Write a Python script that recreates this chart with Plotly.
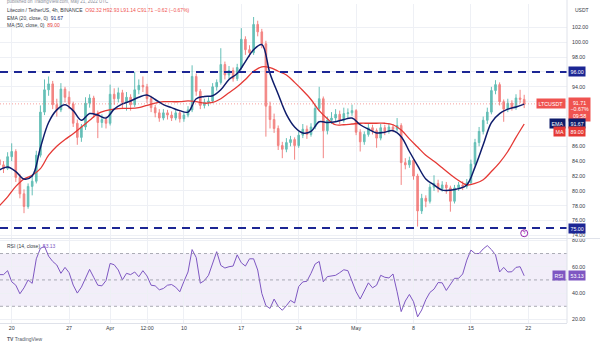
import pandas as pd
import plotly.graph_objects as go

# ---- data: LTC/USDT, 12h bars ----
candle_time = pd.date_range("2022-03-18 12:00", periods=129, freq="12h")

opens = [84.2, 83.5, 83.0, 84.6, 85.3, 81.8, 79.6, 77.9, 80.6, 81.3,
         84.8, 90.6, 93.6, 94.4, 91.6, 90.9, 93.7, 92.6, 91.7, 89.1,
         87.2, 88.6, 91.8, 92.5, 90.4, 89.2, 89.6, 89.1, 93.0, 92.4,
         93.2, 91.9, 92.6, 91.6, 93.6, 94.2, 94.0, 92.4, 91.2, 90.5,
         89.8, 90.5, 90.2, 89.8, 90.5, 89.7, 90.2, 90.9, 95.4, 93.4,
         91.5, 91.9, 92.1, 94.0, 94.6, 97.0, 95.6, 96.2, 95.1, 96.6,
         100.4, 99.0, 98.6, 102.4, 101.4, 99.8, 91.4, 89.6, 88.4, 86.1,
         85.6, 86.5, 86.9, 86.1, 87.5, 88.3, 87.6, 88.6, 91.1, 92.4,
         88.1, 89.5, 89.8, 90.3, 89.5, 90.4, 90.5, 90.8, 87.9, 86.6,
         87.6, 88.5, 88.1, 87.1, 88.5, 88.0, 88.6, 88.3, 88.8, 83.8,
         83.5, 84.1, 82.0, 77.3, 79.0, 78.6, 80.5, 81.0, 80.3, 80.8,
         80.4, 78.6, 80.4, 80.8, 80.6, 81.1, 83.6, 86.5, 88.0, 89.5,
         90.6, 93.5, 94.3, 92.0, 91.0, 91.8, 91.2, 92.5, 92.32]
highs = [85.0, 84.0, 85.2, 86.4, 85.6, 82.3, 80.2, 81.0, 82.2, 85.4,
         91.5, 95.0, 95.4, 94.8, 92.4, 94.5, 94.0, 93.4, 92.0, 89.6,
         89.0, 92.6, 93.0, 92.8, 90.8, 90.3, 90.0, 94.3, 93.8, 93.9,
         93.6, 93.3, 93.0, 96.0, 95.0, 95.4, 94.4, 92.8, 91.6, 91.0,
         91.0, 90.9, 90.7, 91.0, 90.8, 90.6, 91.4, 96.9, 95.8, 93.7,
         92.4, 92.6, 94.5, 95.0, 99.2, 97.4, 96.8, 96.6, 97.1, 101.9,
         100.8, 99.6, 103.4, 102.9, 101.8, 100.2, 92.0, 90.4, 88.8, 86.6,
         87.1, 87.4, 87.2, 88.0, 89.0, 88.8, 89.1, 91.6, 94.0, 92.7,
         90.0, 90.6, 91.0, 90.8, 91.2, 91.1, 91.6, 91.0, 88.3, 88.0,
         89.0, 88.9, 88.4, 89.0, 88.9, 89.1, 89.0, 89.8, 89.1, 84.4,
         84.6, 84.3, 82.3, 79.6, 79.4, 81.0, 82.1, 81.5, 81.3, 81.2,
         80.7, 80.8, 81.2, 81.3, 81.6, 84.2, 87.0, 88.6, 90.0, 91.2,
         94.0, 94.9, 94.6, 92.3, 92.4, 92.2, 93.0, 93.6, 92.93]
lows = [82.6, 82.4, 82.8, 84.0, 81.2, 79.0, 77.0, 77.6, 79.4, 81.0,
        84.5, 90.2, 92.8, 91.0, 90.0, 90.6, 91.9, 91.0, 88.6, 86.2,
        86.6, 88.2, 91.2, 89.8, 87.1, 88.5, 88.4, 88.8, 91.6, 91.9,
        91.0, 90.8, 90.8, 91.3, 93.0, 93.3, 91.8, 90.6, 89.9, 89.3,
        89.5, 89.6, 89.4, 89.5, 89.2, 89.3, 89.9, 90.6, 92.8, 91.0,
        91.1, 91.4, 91.8, 93.5, 94.3, 95.0, 95.1, 94.7, 94.8, 96.3,
        98.3, 98.0, 98.3, 100.8, 99.2, 87.3, 88.4, 87.8, 85.5, 84.4,
        85.2, 86.0, 84.2, 85.8, 87.1, 87.0, 87.3, 88.3, 90.7, 84.4,
        87.6, 89.0, 89.3, 89.0, 89.2, 89.8, 90.1, 87.5, 85.3, 86.2,
        87.3, 87.6, 85.8, 86.8, 87.5, 87.7, 87.9, 88.0, 80.8, 82.9,
        83.1, 81.5, 75.2, 76.9, 77.8, 78.3, 80.0, 79.8, 79.9, 79.6,
        77.2, 78.3, 80.0, 80.1, 80.3, 80.9, 83.3, 86.0, 87.6, 89.0,
        90.3, 93.0, 91.5, 89.3, 90.6, 90.8, 90.9, 91.8, 91.14]
closes = [83.5, 83.0, 84.6, 85.3, 81.8, 79.6, 77.9, 80.6, 81.3, 84.8,
          90.6, 93.6, 94.4, 91.6, 90.9, 93.7, 92.6, 91.7, 89.1, 87.2,
          88.6, 91.8, 92.5, 90.4, 89.2, 89.6, 89.1, 93.0, 92.4, 93.2,
          91.9, 92.6, 91.6, 93.6, 94.2, 94.0, 92.4, 91.2, 90.5, 89.8,
          90.5, 90.2, 89.8, 90.5, 89.7, 90.2, 90.9, 95.4, 93.4, 91.5,
          91.9, 92.1, 94.0, 94.6, 97.0, 95.6, 96.2, 95.1, 96.6, 100.4,
          99.0, 98.6, 102.4, 101.4, 99.8, 91.4, 89.6, 88.4, 86.1, 85.6,
          86.5, 86.9, 86.1, 87.5, 88.3, 87.6, 88.6, 91.1, 92.4, 88.1,
          89.5, 89.8, 90.3, 89.5, 90.4, 90.5, 90.8, 87.9, 86.6, 87.6,
          88.5, 88.1, 87.1, 88.5, 88.0, 88.6, 88.3, 88.8, 83.8, 83.5,
          84.1, 82.0, 77.3, 79.0, 78.6, 80.5, 81.0, 80.3, 80.8, 80.4,
          78.6, 80.4, 80.8, 80.6, 81.1, 83.6, 86.5, 88.0, 89.5, 90.6,
          93.5, 94.3, 92.0, 91.0, 91.8, 91.2, 92.5, 92.32, 91.71]

rsi_values = [54, 54, 57, 48.6, 46, 39.5, 44, 50, 47.4, 66,
              73.9, 75.5, 68, 64, 61.3, 55, 59.5, 55.5, 46.1, 40,
              44.5, 51, 58, 52, 46, 45.5, 49.5, 62.5, 61.5, 57.5,
              50, 55, 54, 56, 52.4, 57, 53, 46, 45.5, 42.5,
              43.5, 46, 46.5, 44.5, 41, 48.8, 56, 73, 67, 47.5,
              49.5, 53.5, 62.5, 71.4, 61, 59, 60, 60.5, 69, 63,
              60.5, 66, 66, 57.5, 39.8, 30.5, 28.4, 35.5, 30, 27,
              30.5, 34.5, 32.5, 45, 48.5, 49, 55, 62, 64, 48.6,
              52.5, 52.8, 53.5, 55.5, 57.7, 57, 48.5, 41, 35.5, 42,
              47.8, 44, 46, 53.5, 52, 51.5, 54.5, 41, 26, 34,
              39, 33.5, 22, 27.2, 35, 40.5, 43, 48, 47.8, 42,
              46.5, 51.2, 51.2, 54.5, 65, 72.6, 70, 70, 73.5, 76,
              73, 69, 56, 59.5, 56, 56.2, 59.5, 60, 53.13]

# moving averages, one reading per day
avg_time = pd.date_range("2022-03-18 12:00", periods=65, freq="24h")
ema20 = [82.8, 83.2, 82.6, 81.6, 82.0, 85.8, 89.2, 90.9, 91.6, 90.8,
         89.5, 90.4, 90.2, 89.8, 91.0, 91.7, 92.1, 92.6, 92.9, 92.3,
         91.6, 91.2, 90.8, 90.6, 92.4, 92.7, 92.8, 93.6, 95.0, 95.8,
         97.4, 99.0, 99.7, 95.8, 93.0, 90.3, 88.6, 87.8, 88.0, 89.3,
         89.2, 89.3, 89.6, 89.8, 88.9, 88.3, 87.8, 87.9, 88.1, 87.3,
         85.3, 83.4, 81.6, 80.8, 80.1, 80.1, 80.3, 80.8, 83.2, 86.2,
         89.2, 90.4, 91.0, 91.3, 91.67]
ma50 = [78.0, 79.2, 80.6, 81.6, 82.1, 83.0, 84.8, 86.0, 86.9, 87.7,
        88.6, 89.5, 90.4, 90.8, 91.0, 91.1, 91.1, 91.2, 91.5, 91.8,
        92.0, 92.0, 92.0, 92.1, 92.0, 91.8, 91.9, 92.4, 93.2, 94.0,
        95.0, 96.1, 96.7, 96.6, 96.1, 95.6, 94.6, 93.5, 92.3, 90.8,
        89.7, 88.9, 88.9, 89.0, 89.1, 89.1, 89.1, 89.1, 88.9, 88.2,
        87.0, 85.9, 84.8, 84.0, 83.1, 82.2, 81.4, 80.8, 81.0, 81.5,
        82.6, 83.8, 85.3, 87.2, 89.0]

resistance = 96.00
support = 75.00

date_ticks = ["2022-03-20", "2022-03-27", "2022-04-01", "2022-04-05 12:00",
              "2022-04-10", "2022-04-17", "2022-04-24", "2022-05-01",
              "2022-05-08", "2022-05-15", "2022-05-22"]
date_labels = ["20", "27", "Apr", "12:00", "10", "17", "24", "May", "8", "15", "22"]
price_ticks = list(range(74, 103, 2))
rsi_ticks = [20, 40, 60, 80]

# ---- styling ----
UP = "#26a69a"
DOWN = "#ef5350"
NAVY = "#1c2694"
EMA_C = "#0e1c6b"
MA_C = "#e53935"
RSI_C = "#7e57c2"
GRID = "#eef0f5"
TXT = "#363a45"
FONT = "Liberation Sans, Arial, sans-serif"

fig = go.Figure()

fig.add_trace(go.Candlestick(
    x=candle_time, open=opens, high=highs, low=lows, close=closes,
    increasing=dict(line=dict(color=UP, width=1), fillcolor=UP),
    decreasing=dict(line=dict(color=DOWN, width=1), fillcolor=DOWN),
    opacity=0.7, xaxis="x", yaxis="y", hoverinfo="skip"))

fig.add_trace(go.Scatter(x=avg_time, y=ma50, mode="lines",
                         line=dict(color=MA_C, width=1.3, shape="spline"),
                         xaxis="x", yaxis="y", hoverinfo="skip"))
fig.add_trace(go.Scatter(x=avg_time, y=ema20, mode="lines",
                         line=dict(color=EMA_C, width=1.5, shape="spline"),
                         xaxis="x", yaxis="y", hoverinfo="skip"))

fig.add_trace(go.Scatter(x=candle_time, y=rsi_values, mode="lines",
                         line=dict(color=RSI_C, width=1),
                         xaxis="x2", yaxis="y2", hoverinfo="skip"))

# event marker near the last bar
fig.add_trace(go.Scatter(x=[candle_time[-1]], y=[74.3], mode="markers+text",
                         marker=dict(symbol="circle-open", size=7,
                                     color="#9c27b0", line=dict(width=1)),
                         text=["ϟ"], textposition="middle center",
                         textfont=dict(size=5, color="#9c27b0"),
                         xaxis="x", yaxis="y", hoverinfo="skip"))

x_range = ["2022-03-18 13:45", "2022-05-26 17:17"]

def hline(y, yref, color, width, dash):
    return dict(type="line", xref="paper", x0=0, x1=1, yref=yref,
                y0=y, y1=y, line=dict(color=color, width=width, dash=dash))

shapes = [
    dict(type="rect", xref="paper", x0=0, x1=1, yref="y2", y0=30, y1=70,
         fillcolor="rgba(126,87,194,0.10)", line=dict(width=0), layer="below"),
    hline(70, "y2", "#9598a1", 0.8, "3px,3px"),
    hline(50, "y2", "#9598a1", 0.8, "3px,3px"),
    hline(30, "y2", "#9598a1", 0.8, "3px,3px"),
    hline(closes[-1], "y", "rgba(239,83,80,0.55)", 1, "1px,2px"),
    hline(resistance, "y", NAVY, 2, "8px,6px"),
    hline(support, "y", NAVY, 2, "8px,6px"),
    # pane separator and price-scale border
    dict(type="line", xref="paper", x0=0, x1=1.06, yref="paper",
         y0=0.2649, y1=0.2649, line=dict(color="#dfe2ea", width=1)),
    dict(type="line", xref="paper", x0=1, x1=1, yref="paper",
         y0=0, y1=1.0125, line=dict(color="#dfe2ea", width=1)),
]

def box(text, y, yref, bg, xanchor="left", xshift=1, yshift=0, size=5.3):
    return dict(text=text, x=1, xref="paper", y=y, yref=yref,
                xanchor=xanchor, yanchor="middle", xshift=xshift, yshift=yshift,
                showarrow=False, bgcolor=bg, borderpad=1.5,
                font=dict(color="white", size=size, family=FONT))

def label(text, px_y, size=5, color=TXT, x=0.008):
    return dict(text=text, x=x, xref="paper", y=(323 - px_y) / 319, yref="paper",
                xanchor="left", yanchor="middle", showarrow=False,
                font=dict(color=color, size=size, family=FONT))

annotations = [
    box(f"{resistance:.2f}", resistance, "y", NAVY),
    box(f"{support:.2f}", support, "y", NAVY),
    box("LTCUSDT", closes[-1], "y", DOWN, xanchor="right", xshift=-1),
    box(f"{closes[-1]:.2f}<br>−0.67%<br>09:58", closes[-1], "y", DOWN, yshift=-6),
    box("EMA", ema20[-1], "y", EMA_C, xanchor="right", xshift=-1, yshift=-19),
    box(f"{ema20[-1]:.2f}", ema20[-1], "y", EMA_C, yshift=-19),
    box("MA", ma50[-1], "y", MA_C, xanchor="right", xshift=-1, yshift=-7),
    box(f"{ma50[-1]:.2f}", ma50[-1], "y", MA_C, yshift=-7),
    box("RSI", rsi_values[-1], "y2", RSI_C, xanchor="right", xshift=-1),
    box(f"{rsi_values[-1]:.2f}", rsi_values[-1], "y2", RSI_C),
    label("Litecoin / TetherUS, 4h, BINANCE  "
          f"<span style='color:{DOWN}'>O{opens[-1]:.2f} H{highs[-1]:.2f} "
          f"L{lows[-1]:.2f} C{closes[-1]:.2f} −0.62 (−0.67%)</span>", 9.5),
    label(f"EMA (20, close, 0)  <span style='color:{EMA_C}'>{ema20[-1]:.2f}</span>", 17.5),
    label(f"MA (50, close, 0)  <span style='color:{MA_C}'>{ma50[-1]:.2f}</span>", 25.5),
    label(f"RSI (14, close)  <span style='color:{RSI_C}'>{rsi_values[-1]:.2f}</span>", 246),
    label("published on TradingView.com, May 21, 2022 UTC",
          1.5, size=4.5, color="#8a8e99"),
    label("USDT", 10, size=5, x=1.01),
    label("<b>TV</b> TradingView", 339, size=5, color="#555a66"),
]

fig.update_layout(
    width=600, height=344,
    margin=dict(l=0, r=33, t=4, b=21),
    paper_bgcolor="white", plot_bgcolor="white",
    showlegend=False, boxgap=0.45,
    font=dict(family=FONT, size=5.3, color=TXT),
    xaxis=dict(domain=[0, 1], anchor="y", type="date", range=x_range,
               tickvals=date_ticks, showticklabels=False,
               showgrid=True, gridcolor=GRID, gridwidth=1, zeroline=False,
               rangeslider=dict(visible=False), fixedrange=True),
    xaxis2=dict(domain=[0, 1], anchor="y2", type="date", range=x_range,
                matches="x", tickvals=date_ticks, ticktext=date_labels,
                showgrid=True, gridcolor=GRID, gridwidth=1, zeroline=False,
                showline=True, linecolor="#dfe2ea", ticks="",
                tickfont=dict(size=5.3, color=TXT)),
    yaxis=dict(domain=[0.2665, 1], anchor="x", side="right",
               range=[73.66, 105.15], tickvals=price_ticks, tickformat=".2f",
               showgrid=True, gridcolor=GRID, zeroline=False, ticks="",
               ticklabelstandoff=4, tickfont=dict(size=5.3, color=TXT)),
    yaxis2=dict(domain=[0, 0.2633], anchor="x2", side="right",
                range=[17.35, 81], tickvals=rsi_ticks, tickformat=".2f",
                showgrid=True, gridcolor=GRID, zeroline=False, ticks="",
                ticklabelstandoff=4, tickfont=dict(size=5.3, color=TXT)),
    shapes=shapes, annotations=annotations,
)

fig.write_html("out.html")
